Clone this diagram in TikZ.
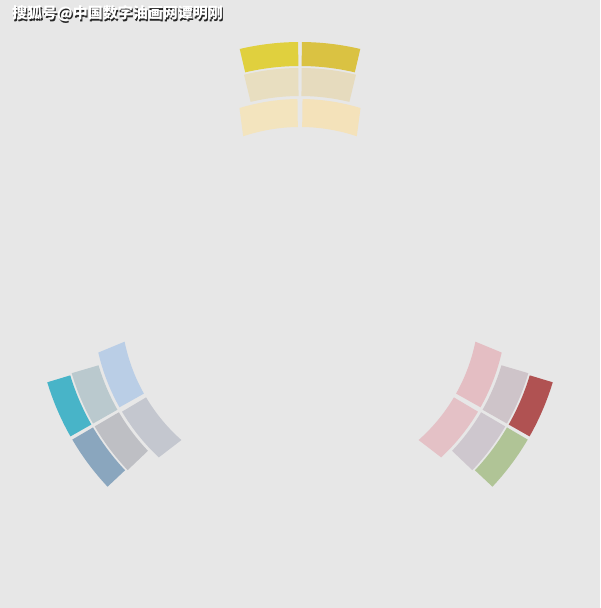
\documentclass[tikz,border=0pt]{standalone}
\usepackage{fontspec}
\usepackage{tikz}
\newfontfamily\cjk{Noto Sans CJK SC}
\definecolor{bg}{RGB}{231,231,231}
% top cluster
\definecolor{yelA}{RGB}{224,208,62}
\definecolor{yelB}{RGB}{218,194,66}
\definecolor{begA}{RGB}{232,222,192}
\definecolor{begB}{RGB}{230,219,190}
\definecolor{crmA}{RGB}{243,228,190}
\definecolor{crmB}{RGB}{244,226,186}
% left cluster
\definecolor{teal}{RGB}{72,180,200}
\definecolor{bgrA}{RGB}{186,201,206}
\definecolor{lblue}{RGB}{186,206,230}
\definecolor{bgrB}{RGB}{138,166,190}
\definecolor{gryA}{RGB}{190,191,196}
\definecolor{gryB}{RGB}{196,199,207}
% right cluster
\definecolor{redp}{RGB}{176,82,82}
\definecolor{grnp}{RGB}{176,196,150}
\definecolor{gryC}{RGB}{206,196,201}
\definecolor{gryD}{RGB}{206,199,206}
\definecolor{pnkA}{RGB}{228,190,195}
\definecolor{pnkB}{RGB}{228,193,198}
% colour, inner arc from/to, outer arc from/to, inner r, outer r
\newcommand\ringpatch[7]{%
  \fill[#1] (#2:#6) arc[start angle=#2,end angle=#3,radius=#6]
    -- (#5:#7) arc[start angle=#5,end angle=#4,radius=#7] -- cycle;}

\begin{document}
\begin{tikzpicture}[x=1pt,y=1pt,every node/.append style={inner sep=0pt},
    wmark/.style={font=\cjk\bfseries\fontsize{15}{16}\selectfont,anchor=west}]
  \fill[bg] (0,0) rectangle (600,608);
  \useasboundingbox (0,0) rectangle (600,608);
  \node[wmark,text=black!85] (shadow) at (13.1,592.9) {搜狐号@中国数字油画网谭明刚};
  \node[wmark,text=white] (wm) at (12,594) {搜狐号@中国数字油画网谭明刚};
  \begin{scope}[shift={(300,302)}]
    % rings: outer 240-264, middle 210-238, inner 179-207
    \foreach \c/\m/\i/\cc/\mm/\ii/\ang in {
        yelA/begA/crmA/yelB/begB/crmB/90,
        bgrB/gryA/gryB/teal/bgrA/lblue/210,
        redp/gryC/pnkA/grnp/gryD/pnkB/330}{
      \ringpatch{\c}{\ang+0.4}{\ang+13.2}{\ang+0.4}{\ang+13.2}{240}{264}
      \ringpatch{\m}{\ang+0.4}{\ang+13.6}{\ang+0.4}{\ang+13.6}{210}{238}
      \ringpatch{\i}{\ang+0.7}{\ang+18.5}{\ang+0.7}{\ang+17}{179}{207}
      \ringpatch{\cc}{\ang-13.2}{\ang-0.4}{\ang-13.2}{\ang-0.4}{240}{264}
      \ringpatch{\mm}{\ang-13.6}{\ang-0.4}{\ang-13.6}{\ang-0.4}{210}{238}
      \ringpatch{\ii}{\ang-18.5}{\ang-0.7}{\ang-17}{\ang-0.7}{179}{207}
    }
  \end{scope}
\end{tikzpicture}
\end{document}
